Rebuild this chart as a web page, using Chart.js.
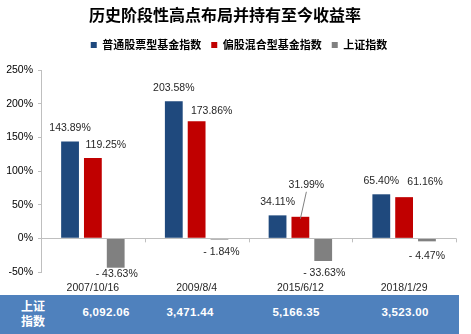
<!DOCTYPE html>
<html>
<head>
<meta charset="utf-8">
<script src="https://cdn.jsdelivr.net/npm/chart.js@4/dist/chart.umd.min.js"></script>
<style>
  html, body { margin: 0; padding: 0; background: #fff; }
  #wrap { position: relative; width: 471px; height: 334px; overflow: hidden; }
  #title {
    position: absolute; left: 0; top: 3px; width: 450px; text-align: center;
    font-family: "Noto Sans CJK SC", sans-serif; font-size: 16px; font-weight: bold;
    line-height: 22px; color: #000;
  }
  #chartBox { position: absolute; left: 0; top: 0; width: 471px; height: 294px; }
  #band {
    position: absolute; left: 0; top: 295px; width: 459px; height: 39px;
    background: #4f81bd; color: #fff;
    font-family: "Noto Sans CJK SC", "Liberation Sans", sans-serif;
  }
  #band .name {
    position: absolute; left: 17px; top: 3px; width: 32px;
    font-size: 12px; line-height: 15px; text-align: center; font-weight: bold;
  }
  #band .val {
    position: absolute; top: 11px; width: 90px; margin-left: -45px;
    text-align: center; font-size: 11.5px; font-weight: bold;
    font-family: "Liberation Sans", Arial, sans-serif; letter-spacing: 0.3px;
  }
</style>
</head>
<body>
<div id="wrap">
  <div id="chartBox"><canvas id="returnsChart"></canvas></div>
  <div id="title">历史阶段性高点布局并持有至今收益率</div>
  <div id="band"><div class="name">上证<br>指数</div></div>
</div>
<script>
// 历史高点日期
const dates = ['2007/10/16', '2009/8/4', '2015/6/12', '2018/1/29'];
// 收益率（%）
const stockFund = [143.89, 203.58, 34.11, 65.40];
const mixedFund = [119.25, 173.86, 31.99, 61.16];
const shIndex = [-43.63, -1.84, -33.63, -4.47];
// 高点时上证指数点位
const shLevels = ['6,092.06', '3,471.44', '5,166.35', '3,523.00'];
const yTicks = [-50, 0, 50, 100, 150, 200, 250];

// 数据标签相对柱顶的偏移
const labelShift = [
  [[0, -13], [0, -13], [0, -13], [0, -13]],
  [[13, -13], [15, -10], [6, -32], [21, -15]],
  [[1, 6], [2, 13], [1, 12], [0, 15]]
];

const band = document.getElementById('band');
const bandX = [106, 190, 296, 405];
shLevels.forEach((v, i) => {
  const d = document.createElement('div');
  d.className = 'val';
  d.style.left = bandX[i] + 'px';
  d.textContent = v;
  band.appendChild(d);
});

const fmt = v => (v < 0 ? '- ' + Math.abs(v).toFixed(2) : v.toFixed(2)) + '%';

const labelPlugin = {
  id: 'barLabels',
  afterLayout(chart) {
    // 图例整体右移一些
    chart.legend.left += 22;
  },
  afterDatasetsDraw(chart) {
    const ctx = chart.ctx;
    const y = chart.scales.y;
    const area = chart.chartArea;
    ctx.save();
    // 零轴与分类刻度
    const y0 = y.getPixelForValue(0);
    ctx.strokeStyle = '#bfbfbf';
    ctx.lineWidth = 1;
    ctx.beginPath();
    ctx.moveTo(area.left, Math.round(y0) + 0.5);
    ctx.lineTo(area.right, Math.round(y0) + 0.5);
    const step = (area.right - area.left) / dates.length;
    for (let i = 1; i <= dates.length; i++) {
      const px = Math.round(area.left + step * i) + 0.5;
      ctx.moveTo(px, y0);
      ctx.lineTo(px, y0 + 4);
    }
    ctx.stroke();

    ctx.font = '10.5px "Liberation Sans", Arial, sans-serif';
    ctx.fillStyle = '#262626';
    ctx.textAlign = 'center';
    ctx.textBaseline = 'middle';
    chart.data.datasets.forEach((ds, di) => {
      chart.getDatasetMeta(di).data.forEach((bar, i) => {
        const v = ds.data[i];
        const [dx, dy] = labelShift[di][i];
        const tx = bar.x + dx;
        const ty = bar.y + dy;
        ctx.fillText(fmt(v), tx, ty);
        // 引导线
        if (di === 1 && i === 2) {
          ctx.strokeStyle = '#808080';
          ctx.beginPath();
          ctx.moveTo(tx, ty + 7);
          ctx.lineTo(bar.x, bar.y + 2);
          ctx.stroke();
        }
      });
    });
    ctx.restore();
  }
};

new Chart(document.getElementById('returnsChart'), {
  type: 'bar',
  data: {
    labels: dates,
    datasets: [
      { label: '普通股票型基金指数', data: stockFund, backgroundColor: '#1f497d' },
      { label: '偏股混合型基金指数', data: mixedFund, backgroundColor: '#c00000' },
      { label: '上证指数', data: shIndex, backgroundColor: '#808080' }
    ]
  },
  options: {
    responsive: true,
    maintainAspectRatio: false,
    animation: false,
    layout: { padding: { left: 0, right: 15, top: 29.5, bottom: 0 } },
    datasets: { bar: { categoryPercentage: 0.66, barPercentage: 0.78 } },
    plugins: {
      legend: {
        labels: {
          boxWidth: 6,
          boxHeight: 6,
          padding: 10,
          color: '#000',
          font: { family: '"Noto Sans CJK SC"', size: 11, weight: 'bold' }
        }
      },
      tooltip: { enabled: false }
    },
    scales: {
      // 图例与绘图区之间的留白
      xTop: {
        type: 'category',
        position: 'top',
        grid: { display: false },
        border: { display: false },
        ticks: { display: false },
        afterFit(scale) { scale.height = 9.5; }
      },
      x: {
        grid: { display: false },
        border: { display: false },
        ticks: {
          color: '#262626',
          font: { family: '"Liberation Sans", Arial, sans-serif', size: 10.5 },
          padding: 2,
          maxRotation: 0
        },
        afterFit(scale) { scale.height = 22; }
      },
      y: {
        min: -50,
        max: 250,
        afterBuildTicks(scale) { scale.ticks = yTicks.map(v => ({ value: v })); },
        grid: { drawOnChartArea: false, tickLength: 3, color: '#bfbfbf' },
        border: { color: '#bfbfbf' },
        ticks: {
          color: '#000',
          font: { family: '"Liberation Sans", Arial, sans-serif', size: 10.5 },
          padding: 5,
          callback: v => v + '%'
        },
        afterFit(scale) { scale.width = 41; }
      }
    }
  },
  plugins: [labelPlugin]
});
</script>
</body>
</html>
